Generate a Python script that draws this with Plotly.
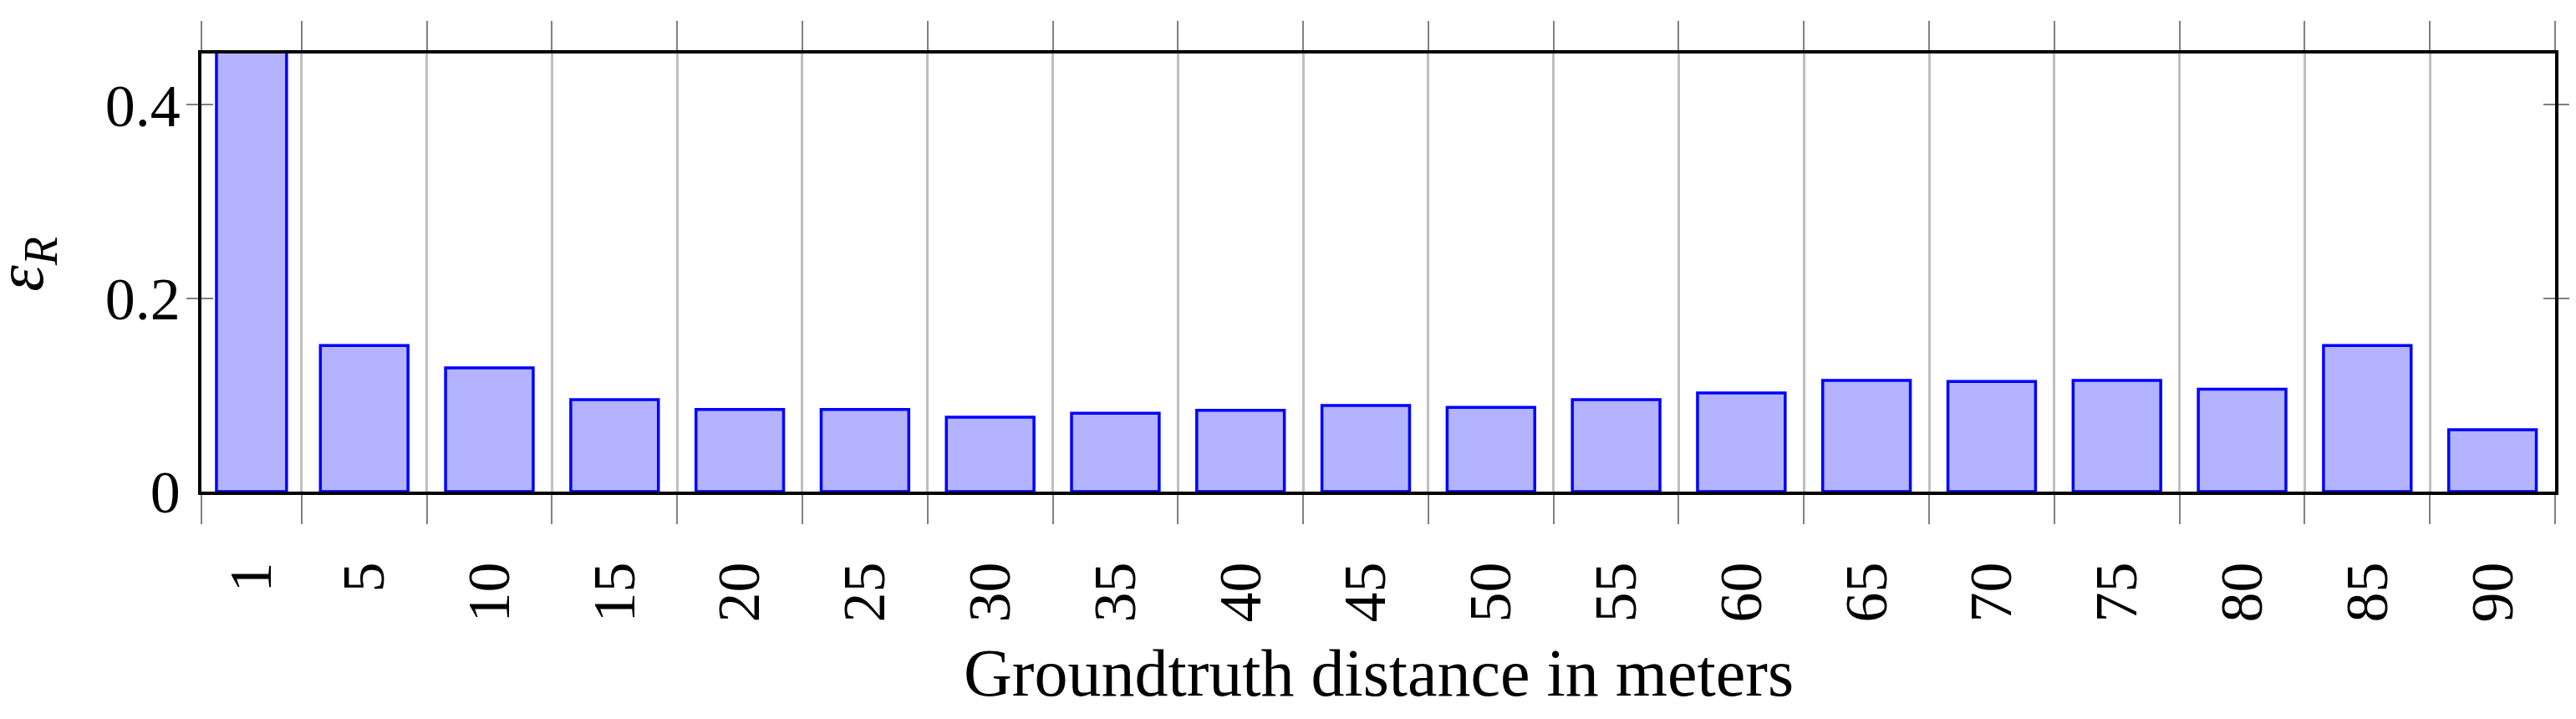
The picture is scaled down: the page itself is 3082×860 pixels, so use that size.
import plotly.graph_objects as go

# bin edges in meters; each bar spans one interval, the last edge closes the final bin
edges = [1, 5, 10, 15, 20, 25, 30, 35, 40, 45, 50, 55, 60, 65, 70, 75, 80, 85, 90, 95]
labels = ['1', '5', '10', '15', '20', '25', '30', '35', '40', '45',
          '50', '55', '60', '65', '70', '75', '80', '85', '90']
# relative error per distance bin (first bar runs off the top of the axis)
err_r = [0.48, 0.151, 0.128, 0.095, 0.085, 0.085, 0.077, 0.081, 0.084, 0.089,
         0.087, 0.095, 0.102, 0.115, 0.114, 0.115, 0.106, 0.151, 0.064]
y_ticks = [0, 0.2, 0.4]
y_ticktext = ['0', '0.2', '0.4']

FONT = 'Liberation Serif'
centers = [(a + b) / 2 for a, b in zip(edges[:-1], edges[1:])]
widths = [0.7 * (b - a) for a, b in zip(edges[:-1], edges[1:])]

fig = go.Figure()
fig.add_trace(go.Bar(
    x=centers, y=err_r, width=widths,
    marker=dict(color='#b3b3ff', line=dict(color='#0000ff', width=3.5)),
    showlegend=False
))

# dummy trace so the label axis is drawn
fig.add_trace(go.Scatter(x=[centers[0]], y=[0], xaxis='x2', mode='markers',
                         marker=dict(opacity=0), showlegend=False, hoverinfo='skip'))

# page body has an 8px margin, so the figure is a bit smaller than the window
fig.update_layout(
    template='none',
    width=3066, height=844,
    margin=dict(l=233, r=17, t=56, b=264, autoexpand=False),
    plot_bgcolor='white', paper_bgcolor='white',
    font=dict(family=FONT, size=72, color='black'),
    xaxis=dict(
        range=[edges[0], edges[-1]], automargin=False,
        tickmode='array', tickvals=edges, showticklabels=False,
        showgrid=True, gridcolor='#bfbfbf', gridwidth=3,
        ticks='outside', ticklen=35, tickwidth=2, tickcolor='#808080',
        showline=True, linecolor='black', linewidth=3.5, mirror='allticks',
        zeroline=False,
    ),
    xaxis2=dict(
        overlaying='x', anchor='y', side='bottom', automargin=False,
        range=[edges[0], edges[-1]],
        tickmode='array', tickvals=centers, ticktext=labels,
        tickangle=-90, ticks='', showgrid=False, showline=False,
        zeroline=False, ticklabelstandoff=69,
        tickfont=dict(family=FONT, size=72),
    ),
    yaxis=dict(
        range=[0, 0.453], automargin=False,
        tickmode='array', tickvals=y_ticks, ticktext=y_ticktext,
        ticks='inside', ticklen=14, tickwidth=2, tickcolor='#808080',
        showline=True, linecolor='black', linewidth=3.5, mirror='allticks',
        showgrid=False, zeroline=False, ticklabelstandoff=7,
        tickfont=dict(family=FONT, size=72),
    ),
    annotations=[
        dict(text='Groundtruth distance in meters', xref='paper', yref='paper',
             x=0.5, y=-0.415, xanchor='center', yanchor='middle', borderpad=0,
             showarrow=False, font=dict(family=FONT, size=80)),
        dict(text='<i>ε</i><sub><i>R</i></sub>', xref='paper', yref='paper',
             x=-0.075, y=0.519, xanchor='center', yanchor='middle', borderpad=0,
             textangle=-90, showarrow=False, font=dict(family=FONT, size=80)),
    ],
)

fig.write_html('out.html')
